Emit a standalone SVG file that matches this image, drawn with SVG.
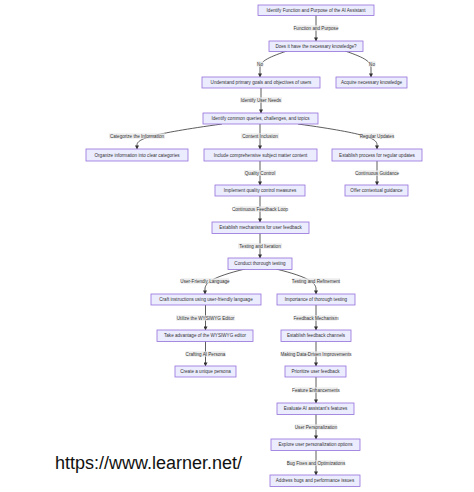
<svg xmlns="http://www.w3.org/2000/svg" width="474" height="492" viewBox="0 0 474 492">
<style>
.node rect{fill:#ECECFF;stroke:#9370DB;stroke-width:0.8}
.node text,.lbl text{font-family:"Liberation Sans",Arial,sans-serif;font-size:4.6px;fill:#333;text-anchor:middle;dominant-baseline:central}
.edge{fill:none;stroke:#333;stroke-width:0.8;marker-end:url(#arr)}
.lbl rect{fill:#e8e8e8;fill-opacity:0.8}
.wm{font-family:"Liberation Sans",Arial,sans-serif;font-size:18px;fill:#111}
</style>
<defs>
<marker id="arr" viewBox="0 0 10 10" refX="9" refY="5" markerUnits="userSpaceOnUse" markerWidth="4" markerHeight="4" orient="auto">
<path d="M0,0 L10,5 L0,10 z" fill="#333"/>
</marker>
</defs>
<rect width="474" height="492" fill="#fff"/>
<g id="connectors">
<path class="edge" d="M316,15 L316,41"/>
<path class="edge" d="M287,51 C266,58 260,62 260,68 L260,77"/>
<path class="edge" d="M345,51 C366,58 371,62 371,68 L371,77"/>
<path class="edge" d="M261,88 L261,113"/>
<path class="edge" d="M222,124 C150,134 137,139 137,145 L137,149"/>
<path class="edge" d="M260,124 L260,149"/>
<path class="edge" d="M298,124 C370,134 377,139 377,145 L377,149"/>
<path class="edge" d="M260,161 L260,185"/>
<path class="edge" d="M377,161 L377,185"/>
<path class="edge" d="M260,196 L260,222"/>
<path class="edge" d="M260,233 L260,258"/>
<path class="edge" d="M245,269 C212,277 205,283 205,289 L205,294"/>
<path class="edge" d="M276,269 C309,277 316,283 316,289 L316,294"/>
<path class="edge" d="M205.5,305 L205.5,330"/>
<path class="edge" d="M205.5,341 L205.5,366"/>
<path class="edge" d="M316,305 L316,330"/>
<path class="edge" d="M316,341 L316,366"/>
<path class="edge" d="M316,377 L316,403"/>
<path class="edge" d="M316,414 L316,439"/>
<path class="edge" d="M316,450 L316,475"/>
<g class="lbl">
<rect x="294" y="25.3" width="44" height="5.4"/><text x="316" y="28">Function and Purpose</text>
<rect x="256.5" y="61.3" width="7" height="5.4"/><text x="260" y="64">No</text>
<rect x="368.5" y="61.3" width="7" height="5.4"/><text x="372" y="64">No</text>
<rect x="240" y="97.3" width="42" height="5.4"/><text x="261" y="100">Identify User Needs</text>
<rect x="109" y="133.3" width="56" height="5.4"/><text x="137" y="136">Categorize the Information</text>
<rect x="241" y="133.3" width="38" height="5.4"/><text x="260" y="136">Content Inclusion</text>
<rect x="360" y="133.3" width="34" height="5.4"/><text x="377" y="136">Regular Updates</text>
<rect x="244" y="170.3" width="32" height="5.4"/><text x="260" y="173">Quality Control</text>
<rect x="356" y="170.3" width="42" height="5.4"/><text x="377" y="173">Continuous Guidance</text>
<rect x="234" y="206.3" width="52" height="5.4"/><text x="260" y="209">Continuous Feedback Loop</text>
<rect x="238" y="243.3" width="44" height="5.4"/><text x="260" y="246">Testing and Iteration</text>
<rect x="181" y="278.3" width="48" height="5.4"/><text x="205" y="281">User-Friendly Language</text>
<rect x="292" y="278.3" width="48" height="5.4"/><text x="316" y="281">Testing and Refinement</text>
<rect x="176" y="315.3" width="59" height="5.4"/><text x="205.5" y="318">Utilize the WYSIWYG Editor</text>
<rect x="185.5" y="351.3" width="40" height="5.4"/><text x="205.5" y="354">Crafting AI Persona</text>
<rect x="295" y="315.3" width="42" height="5.4"/><text x="316" y="318">Feedback Mechanism</text>
<rect x="282" y="351.3" width="68" height="5.4"/><text x="316" y="354">Making Data-Driven Improvements</text>
<rect x="294" y="387.3" width="44" height="5.4"/><text x="316" y="390">Feature Enhancements</text>
<rect x="295" y="424.3" width="42" height="5.4"/><text x="316" y="427">User Personalization</text>
<rect x="287" y="460.3" width="58" height="5.4"/><text x="316" y="463">Bug Fixes and Optimizations</text>
</g>
</g>
<g id="n1" class="node"><rect x="258" y="5" width="116" height="10.5"/><text x="316" y="10.3">Identify Function and Purpose of the AI Assistant</text></g>
<g id="n2" class="node"><rect x="269" y="41" width="94" height="10.5"/><text x="316" y="46.3">Does it have the necessary knowledge?</text></g>
<g id="n3" class="node"><rect x="202" y="77" width="118" height="11"/><text x="261" y="82.5">Understand primary goals and objectives of users</text></g>
<g id="n4" class="node"><rect x="336" y="77" width="71" height="11"/><text x="371.5" y="82.5">Acquire necessary knowledge</text></g>
<g id="n5" class="node"><rect x="203" y="113" width="115" height="11"/><text x="260.5" y="118.5">Identify common queries, challenges, and topics</text></g>
<g id="n6" class="node"><rect x="86" y="149" width="102" height="12"/><text x="137" y="155">Organize information into clear categories</text></g>
<g id="n7" class="node"><rect x="204" y="149" width="113" height="12"/><text x="260.5" y="155">Include comprehensive subject matter content</text></g>
<g id="n8" class="node"><rect x="332" y="149" width="90" height="12"/><text x="377" y="155">Establish process for regular updates</text></g>
<g id="n9" class="node"><rect x="215" y="185" width="90" height="11"/><text x="260" y="190.5">Implement quality control measures</text></g>
<g id="n10" class="node"><rect x="345" y="185" width="63" height="11"/><text x="376.5" y="190.5">Offer contextual guidance</text></g>
<g id="n11" class="node"><rect x="212" y="222" width="97" height="11.5"/><text x="260.5" y="227.7">Establish mechanisms for user feedback</text></g>
<g id="n12" class="node"><rect x="228" y="258" width="64" height="11.5"/><text x="260" y="263.7">Conduct thorough testing</text></g>
<g id="n13" class="node"><rect x="151" y="294" width="110" height="11"/><text x="206" y="299.5">Craft instructions using user-friendly language</text></g>
<g id="n14" class="node"><rect x="157" y="330" width="96" height="11.5"/><text x="205" y="335.7">Take advantage of the WYSIWYG editor</text></g>
<g id="n15" class="node"><rect x="175" y="366" width="61" height="11"/><text x="205.5" y="371.5">Create a unique persona</text></g>
<g id="n16" class="node"><rect x="277" y="294" width="78" height="11"/><text x="316" y="299.5">Importance of thorough testing</text></g>
<g id="n17" class="node"><rect x="281" y="330" width="70" height="11.5"/><text x="316" y="335.7">Establish feedback channels</text></g>
<g id="n18" class="node"><rect x="285" y="366" width="61" height="11"/><text x="315.5" y="371.5">Prioritize user feedback</text></g>
<g id="n19" class="node"><rect x="277" y="403" width="77" height="11.5"/><text x="315.5" y="408.7">Evaluate AI assistant's features</text></g>
<g id="n20" class="node"><rect x="271" y="439" width="89" height="11.5"/><text x="315.5" y="444.7">Explore user personalization options</text></g>
<g id="n21" class="node"><rect x="270" y="475" width="90" height="11.5"/><text x="315" y="480.7">Address bugs and performance issues</text></g>
<text class="wm" x="55" y="469">https://www.learner.net/</text>
</svg>
